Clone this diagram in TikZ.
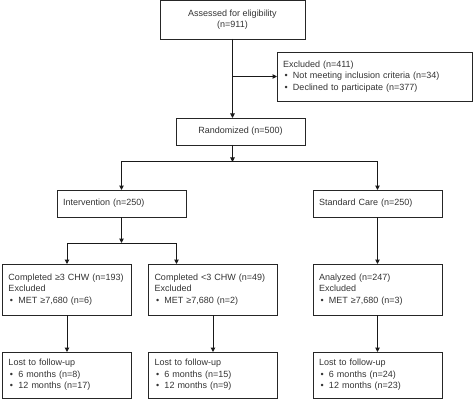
\documentclass[tikz,border=0pt]{standalone}
\usepackage{fontspec}
\setmainfont{Liberation Sans}
\usetikzlibrary{arrows.meta, positioning}
\newcommand{\bitem}{\makebox[10pt][l]{\hspace{1.5pt}\textbullet}}

\begin{document}
\begin{tikzpicture}[
  font=\fontsize{9}{11.5}\selectfont,
  box/.style={draw=black!85, line width=0.8pt, text=black!80, inner xsep=6pt, inner ysep=0pt, outer sep=0pt, minimum height=27pt},
  lbox/.style={box, text width=117pt, align=left},
  arrow/.style={-{Triangle[length=4.5pt,width=4.5pt]}, line width=1pt, color=black!90}
]
  \useasboundingbox (0,0) rectangle (474pt,-401pt);

  % Screening
  \node[box, minimum width=145pt, minimum height=39pt, align=center]
    (assess) at (232.5pt,-19.5pt) {Assessed for eligibility\\(n=911)};

  \node[lbox, text width=183pt, minimum height=49pt, below right=13pt and -28pt of assess]
    (excl) {Excluded (n=411)\\\bitem Not meeting inclusion criteria (n=34)\\\bitem Declined to participate (n=377)};

  \node[box, minimum width=129pt, below=79pt of assess, xshift=8pt]
    (rand) {Randomized (n=500)};

  \draw[arrow] (assess.south) -- (assess.south |- rand.north);
  \draw[arrow] (assess.south |- excl.west) -- (excl.west);

  % Allocation
  \node[lbox, below left=45pt and -10pt of rand]
    (interv) {Intervention (n=250)};

  \node[lbox, below right=45pt and 8pt of rand]
    (stdcare) {Standard Care (n=250)};

  \draw[arrow] (assess.south |- rand.south) -- ++(0,-17pt) coordinate (split);
  \draw[arrow] (split) -| (interv);
  \draw[arrow] (split) -| (stdcare);

  % Analysis
  \node[lbox, minimum height=51pt, below=47pt of interv, xshift=-54.5pt]
    (complA) {Completed ≥3 CHW (n=193)\\Excluded\\\bitem MET ≥7,680 (n=6)};

  \node[lbox, minimum height=51pt, right=17pt of complA]
    (complB) {Completed <3 CHW (n=49)\\Excluded\\\bitem MET ≥7,680 (n=2)};

  \node[lbox, minimum height=51pt, below=47pt of stdcare]
    (analyzed) {Analyzed (n=247)\\Excluded\\\bitem MET ≥7,680 (n=3)};

  \draw[arrow] (interv.south) -- ++(0,-26pt) coordinate (split2);
  \draw[arrow] (split2) -| (complA);
  \draw[arrow] (split2) -| ([xshift=28pt]complB.north west);
  \draw[arrow] (stdcare) -- (analyzed);

  % Follow-up
  \node[lbox, minimum height=46pt, below=37pt of complA]
    (lostA) {Lost to follow-up\\\bitem 6 months (n=8)\\\bitem 12 months (n=17)};

  \node[lbox, minimum height=46pt, below=37pt of complB]
    (lostB) {Lost to follow-up\\\bitem 6 months (n=15)\\\bitem 12 months (n=9)};

  \node[lbox, minimum height=46pt, below=37pt of analyzed]
    (lostC) {Lost to follow-up\\\bitem 6 months (n=24)\\\bitem 12 months (n=23)};

  \draw[arrow] (complA) -- (lostA);
  \draw[arrow] (complB) -- (lostB);
  \draw[arrow] (analyzed) -- (lostC);

\end{tikzpicture}
\end{document}
